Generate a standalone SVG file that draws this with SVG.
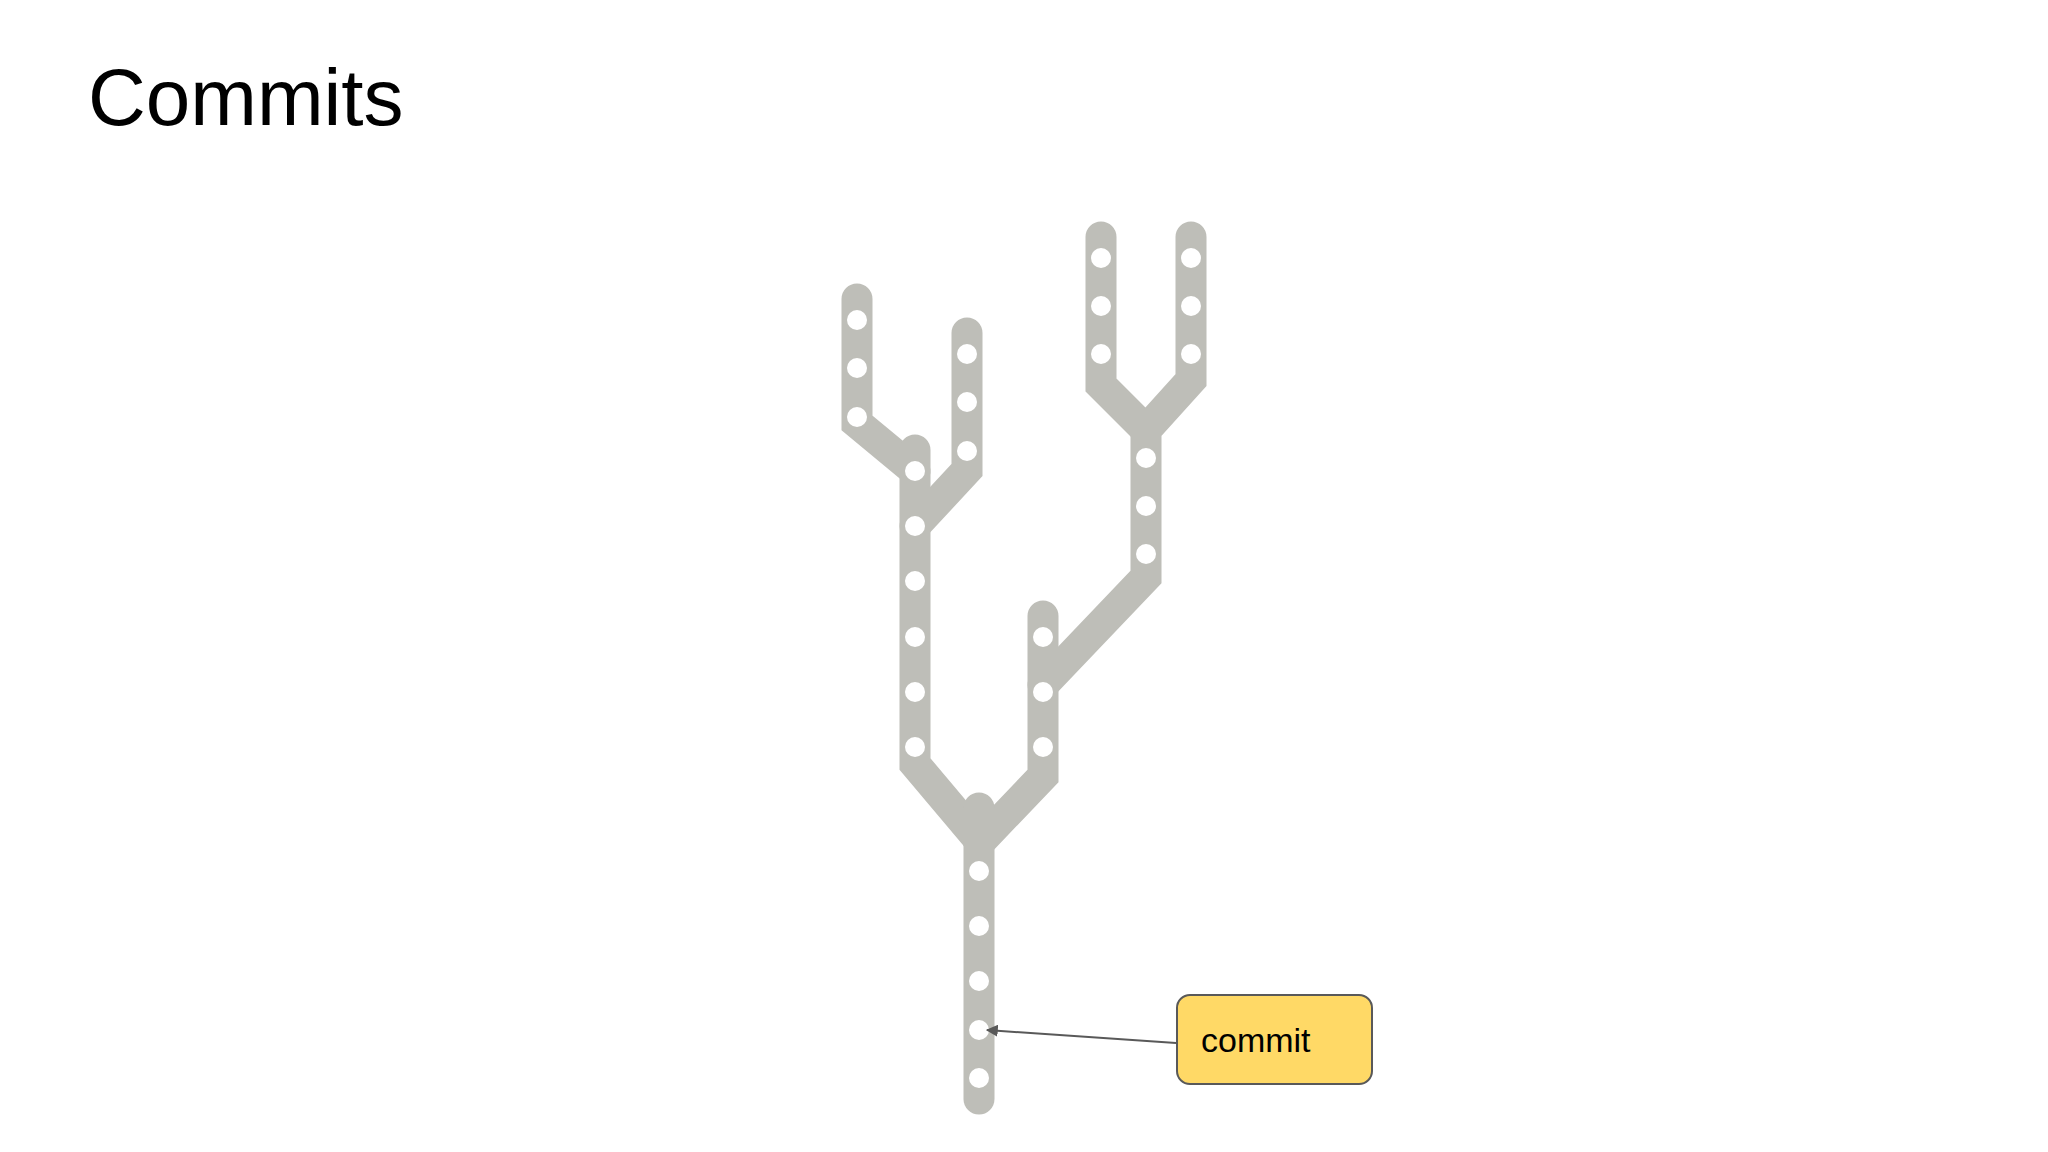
<svg xmlns="http://www.w3.org/2000/svg" width="2048" height="1152" viewBox="0 0 2048 1152">
  <style>
    .bar { fill: none; stroke: #BEBEB8; stroke-width: 31; stroke-linecap: round; stroke-linejoin: miter; stroke-miterlimit: 10; }
    .commit { fill: #FFFFFF; }
    .title { font-family: "Liberation Sans", Arial, sans-serif; font-size: 80px; fill: #000000; }
    .label { font-family: "Liberation Sans", Arial, sans-serif; font-size: 34px; fill: #000000; }
    .box { fill: #FFD966; stroke: #595959; stroke-width: 2; }
    .arrow { stroke: #595959; stroke-width: 2; fill: none; }
  </style>
  <defs>
    <marker id="ah" viewBox="0 0 10 10" refX="9" refY="5" markerWidth="6" markerHeight="6" orient="auto" markerUnits="strokeWidth">
      <path d="M0,0 L10,5 L0,10 z" fill="#595959"/>
    </marker>
  </defs>
  <rect width="2048" height="1152" fill="#FFFFFF"/>
  <text class="title" x="88" y="125">Commits</text>

  <g id="branches">
    <polyline id="branch-a" class="bar" points="857,299 857,423 915,471"/>
    <polyline id="branch-b" class="bar" points="967,333 967,470 915,526"/>
    <polyline id="branch-left" class="bar" points="915,450 915,764 979,840"/>
    <polyline id="branch-c" class="bar" points="1101,237 1101,385 1146,430"/>
    <polyline id="branch-d" class="bar" points="1191,237 1191,380 1146,430 1146,577 1043,685"/>
    <polyline id="branch-mid" class="bar" points="1043,616 1043,776 979,843"/>
    <line id="branch-main" class="bar" x1="979" y1="808" x2="979" y2="1099"/>
  </g>

  <g id="commits">
    <g id="commits-a"><circle class="commit" cx="857" cy="320" r="10"/><circle class="commit" cx="857" cy="368" r="10"/><circle class="commit" cx="857" cy="417" r="10"/></g>
    <g id="commits-b"><circle class="commit" cx="967" cy="354" r="10"/><circle class="commit" cx="967" cy="402" r="10"/><circle class="commit" cx="967" cy="451" r="10"/></g>
    <g id="commits-left"><circle class="commit" cx="915" cy="471" r="10"/><circle class="commit" cx="915" cy="526" r="10"/><circle class="commit" cx="915" cy="581" r="10"/><circle class="commit" cx="915" cy="637" r="10"/><circle class="commit" cx="915" cy="692" r="10"/><circle class="commit" cx="915" cy="747" r="10"/></g>
    <g id="commits-c"><circle class="commit" cx="1101" cy="258" r="10"/><circle class="commit" cx="1101" cy="306" r="10"/><circle class="commit" cx="1101" cy="354" r="10"/></g>
    <g id="commits-d"><circle class="commit" cx="1191" cy="258" r="10"/><circle class="commit" cx="1191" cy="306" r="10"/><circle class="commit" cx="1191" cy="354" r="10"/></g>
    <g id="commits-right"><circle class="commit" cx="1146" cy="458" r="10"/><circle class="commit" cx="1146" cy="506" r="10"/><circle class="commit" cx="1146" cy="554" r="10"/></g>
    <g id="commits-mid"><circle class="commit" cx="1043" cy="637" r="10"/><circle class="commit" cx="1043" cy="692" r="10"/><circle class="commit" cx="1043" cy="747" r="10"/></g>
    <g id="commits-main"><circle class="commit" cx="979" cy="871" r="10"/><circle class="commit" cx="979" cy="926" r="10"/><circle class="commit" cx="979" cy="981" r="10"/><circle class="commit" cx="979" cy="1030" r="10"/><circle class="commit" cx="979" cy="1078" r="10"/></g>
  </g>

  <g id="commit-label">
    <rect class="box" x="1177" y="995" width="195" height="89" rx="13" ry="13"/>
    <text class="label" x="1201" y="1052">commit</text>
  </g>

  <g id="connectors">
    <line class="arrow" x1="1176" y1="1043" x2="987" y2="1030" marker-end="url(#ah)"/>
  </g>
</svg>
